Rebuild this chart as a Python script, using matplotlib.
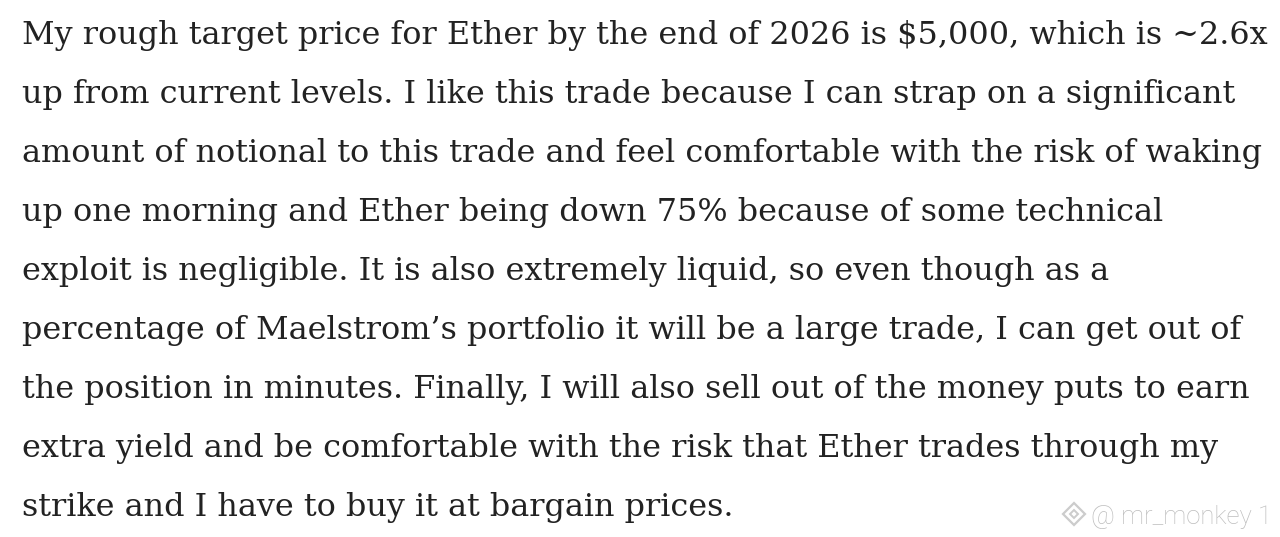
import matplotlib
matplotlib.use('Agg')
import matplotlib.pyplot as plt
from matplotlib.patches import Polygon

lines = [
    "My rough target price for Ether by the end of 2026 is $5,000, which is ~2.6x",
    "up from current levels. I like this trade because I can strap on a significant",
    "amount of notional to this trade and feel comfortable with the risk of waking",
    "up one morning and Ether being down 75% because of some technical",
    "exploit is negligible. It is also extremely liquid, so even though as a",
    "percentage of Maelstrom\u2019s portfolio it will be a large trade, I can get out of",
    "the position in minutes. Finally, I will also sell out of the money puts to earn",
    "extra yield and be comfortable with the risk that Ether trades through my",
    "strike and I have to buy it at bargain prices.",
]
watermark = "@ mr_monkey 1"

W, H = 1280, 537
fig = plt.figure(figsize=(W / 100, H / 100), dpi=100)
ax = fig.add_axes([0, 0, 1, 1])
ax.set_xlim(0, W)
ax.set_ylim(H, 0)
ax.axis('off')

left = 22
first_base = 44
step = 59
widest = 2  # "amount of notional ..." is the longest line
target = 1262 - left

# size the font so the longest line spans the same width as in the picture
fig.canvas.draw()
renderer = fig.canvas.get_renderer()
probe = ax.text(0, 0, lines[widest], family='DejaVu Serif', fontsize=20)
w = probe.get_window_extent(renderer).width
probe.remove()
size = 20 * target / w

for i, line in enumerate(lines):
    ax.text(left, first_base + i * step, line, family='DejaVu Serif',
            fontsize=size, color='#222222', va='baseline', ha='left')

# watermark
ax.text(1091, 524, watermark, family='Roboto', fontsize=18.5, color='#bdbdbd',
        va='baseline', ha='left', fontweight='light')
cx, cy, r = 1074, 514, 11
ax.add_patch(Polygon([(cx, cy - r), (cx + r, cy), (cx, cy + r), (cx - r, cy)],
                     closed=True, fill=False, edgecolor='#cccccc', lw=1.6))
ax.add_patch(Polygon([(cx, cy - 4), (cx + 4, cy), (cx, cy + 4), (cx - 4, cy)],
                     closed=True, fill=False, edgecolor='#cccccc', lw=1.4))

fig.savefig('out.png', dpi=100, facecolor='white')
